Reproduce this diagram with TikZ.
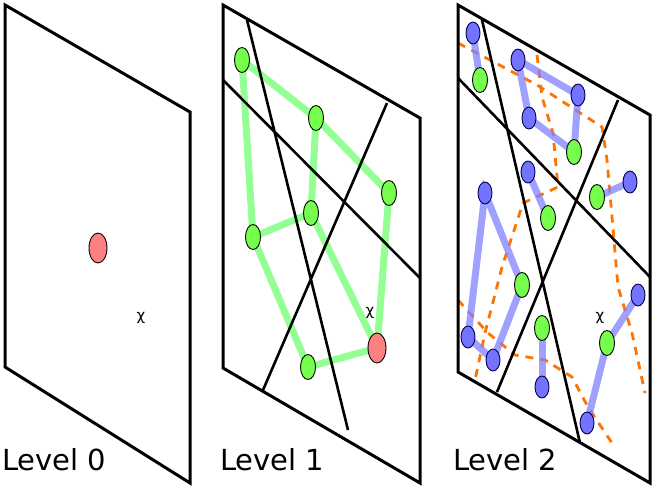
\documentclass[tikz,border=0pt]{standalone}
\usepackage{fontspec}
\setmainfont{DejaVu Sans}
\usetikzlibrary{shapes.geometric}
\begin{document}
\begin{tikzpicture}[x=1pt,y=-1pt,
 pan/.style={line width=3pt,line join=miter},
 cut/.style={line width=2.6pt},
 gn/.style={ellipse,draw=black,line width=0.9pt,fill=green!70!lime!70!white,minimum width=15pt,minimum height=25pt,inner sep=0pt},
 bn/.style={ellipse,draw=black!70!blue,line width=0.9pt,fill=blue!55!white,minimum width=14pt,minimum height=22pt,inner sep=0pt},
 rn/.style={ellipse,draw=black,line width=0.9pt,fill=red!50!white,minimum width=18pt,minimum height=30pt,inner sep=0pt},
 ge/.style={line width=7pt,draw=green!60!white,opacity=0.7},
 be/.style={line width=7pt,draw=blue!50!white,opacity=0.75},
 de/.style={line width=2.8pt,draw=orange!90!red,dash pattern=on 8pt off 7pt},
 lab/.style={anchor=base west,font=\fontsize{29}{30}\selectfont,inner sep=0pt},
 xm/.style={font=\fontsize{15}{15}\selectfont,inner sep=0pt}]
\useasboundingbox (0,0) rectangle (655,488);
% Panel 0
\draw[pan] (5,5) -- (190,112) -- (190,483) -- (5,367) -- cycle;
\node[rn] (r0) at (98,248) {};
\node[xm] (x0) at (141,318) {χ};
\node[lab] (l0) at (2,470) {Level 0};
% Panel 1
\coordinate (a1) at (247,20); \coordinate (a2) at (348,430);
\coordinate (b1) at (223,80); \coordinate (b2) at (420,278);
\coordinate (c1) at (387,103); \coordinate (c2) at (263,390);
\coordinate (k1) at (242,60); \coordinate (k2) at (316,118); \coordinate (k3) at (389,193);
\coordinate (k4) at (311,213); \coordinate (k5) at (253,237); \coordinate (k6) at (308,367);
\coordinate (kr) at (377,348);
\draw[ge] (k1)--(k2)--(k3)--(kr)--(k6)--(k5)--(k1);
\draw[ge] (k2)--(k4)--(k5);
\draw[ge] (k4)--(kr);
\foreach \n in {k1,k2,k3,k4,k5,k6} \node[gn] (n\n) at (\n) {};
\node[rn] (nkr) at (kr) {};
\draw[cut] (a1)--(a2) (b1)--(b2) (c1)--(c2);
\draw[pan] (223,5) -- (420,118) -- (420,483) -- (223,368) -- cycle;
\node[xm] (x1) at (370,313) {χ};
\node[lab] (l1) at (220,470) {Level 1};
% Panel 2
\coordinate (A1) at (482,20); \coordinate (A2) at (580,443);
\coordinate (B1) at (458,78); \coordinate (B2) at (650,277);
\coordinate (C1) at (618,100); \coordinate (C2) at (497,392);
\draw[de] (458,43)--(537,85)--(602,127)--(607,160)--(612,217)--(618,287)--(632,333)--(645,393);
\draw[de] (537,55)--(542,97)--(553,133)--(558,187)--(523,203)--(502,267)--(485,333)--(475,380);
\draw[de] (458,300)--(488,333)--(515,355)--(545,360)--(572,377)--(588,407)--(612,443);
\coordinate (p1) at (473,33); \coordinate (q1) at (480,80);
\coordinate (p2) at (518,60); \coordinate (p3) at (578,95); \coordinate (p4) at (529,118); \coordinate (q2) at (574,152);
\coordinate (p5) at (528,172); \coordinate (q3) at (548,218);
\coordinate (q4) at (597,197); \coordinate (p6) at (630,182);
\coordinate (p7) at (485,193); \coordinate (q5) at (522,285); \coordinate (p8) at (468,337); \coordinate (p9) at (493,360);
\coordinate (q6) at (542,328); \coordinate (p10) at (542,387);
\coordinate (q7) at (607,343); \coordinate (p11) at (638,295); \coordinate (p12) at (587,423);
\draw[be] (p1)--(q1);
\draw[be] (p4)--(p2)--(p3)--(q2)--(p4);
\draw[be] (p5)--(q3);
\draw[be] (q4)--(p6);
\draw[be] (q5)--(p7)--(p8)--(p9)--(q5);
\draw[be] (q6)--(p10);
\draw[be] (p11)--(q7)--(p12);
\foreach \n in {p1,p2,p3,p4,p5,p6,p7,p8,p9,p10,p11,p12} \node[bn] (n\n) at (\n) {};
\foreach \n in {q1,q2,q3,q4,q5,q6,q7} \node[gn] (n\n) at (\n) {};
\draw[cut] (A1)--(A2) (B1)--(B2) (C1)--(C2);
\draw[pan] (458,5) -- (650,115) -- (650,483) -- (458,372) -- cycle;
\node[xm] (x2) at (600,318) {χ};
\node[lab] (l2) at (453,470) {Level 2};
\end{tikzpicture}
\end{document}
